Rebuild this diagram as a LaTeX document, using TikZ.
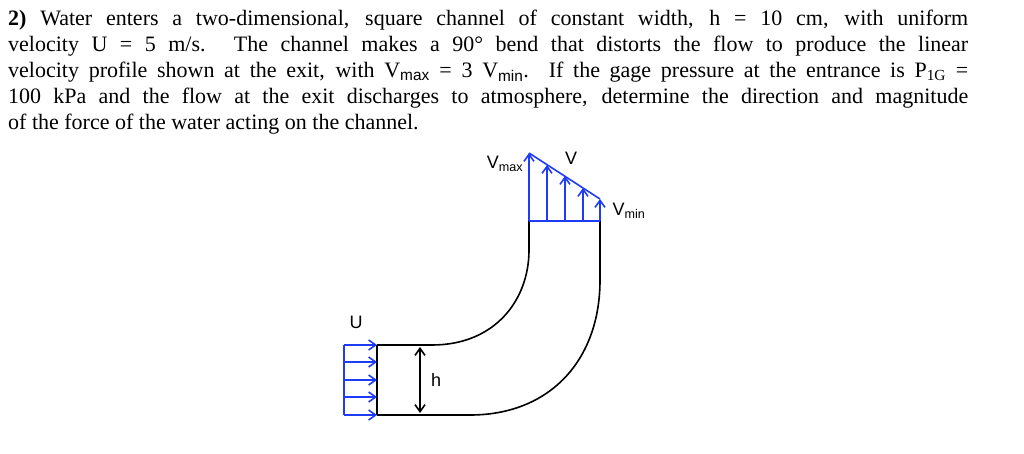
\documentclass[tikz,border=0pt]{standalone}
\usepackage{fontspec}
\setmainfont{Liberation Serif}
\newfontfamily\lab{Liberation Sans}
\usetikzlibrary{arrows.meta}
\begin{document}
\begin{tikzpicture}[x=1pt,y=-1pt,
  txt/.style={anchor=base west,inner sep=0pt,font=\fontsize{22}{26}\selectfont},
  lbl/.style={inner sep=0pt,font=\lab\fontsize{18}{20}\selectfont},
  blu/.style={draw={rgb,255:red,30;green,60;blue,245},line width=1.6pt},
  barr/.style={blu,-{Straight Barb[length=7pt,width=10pt]}},
  wall/.style={draw=black,line width=1.6pt}]
\useasboundingbox (0,0) rectangle (1024,453);
\newcommand\jl[1]{\makebox[960pt][s]{#1}}
\node[txt] (l1) at (8,25) {\jl{\textbf{2)} Water enters a two-dimensional, square channel of constant width, h = 10 cm, with uniform}};
\node[txt] (l2) at (8,51) {\jl{velocity U = 5 m/s. The channel makes a 90° bend that distorts the flow to produce the linear}};
\node[txt] (l3) at (8,77) {\jl{velocity profile shown at the exit, with V\textsubscript{\lab max} = 3 V\textsubscript{\lab min}. If the gage pressure at the entrance is P\textsubscript{1G} =}};
\node[txt] (l4) at (8,103) {\jl{100 kPa and the flow at the exit discharges to atmosphere, determine the direction and magnitude}};
\node[txt] (l5) at (8,129) {of the force of the water acting on the channel.};
% channel
\coordinate (it) at (377,345); \coordinate (ib) at (377,415);
\coordinate (el) at (529,221); \coordinate (er) at (600,221);
\draw[wall] (it) -- (ib);
\draw[wall] (it) -- (432,345) .. controls (495,345) and (529,300) .. (529,250) -- (el);
\draw[wall] (ib) -- (470,415) .. controls (550,415) and (600,360) .. (600,280) -- (er);
% exit profile
\draw[blu] (el) -- (er);
\draw[blu] (529,153) -- (600,199);
\foreach \x/\y in {529/153,547/165,565/176,583/188,600/199}
  \draw[barr] (\x,221) -- (\x,\y);
% inlet profile
\draw[blu] (344,345) -- (344,415);
\foreach \y in {345,362,380,397,415}
  \draw[barr] (344,\y) -- (377,\y);
% h
\coordinate (h1) at (420,347); \coordinate (h2) at (420,413);
\draw[line width=1.6pt,{Straight Barb[length=7pt,width=10pt]}-{Straight Barb[length=7pt,width=10pt]}] (h1) -- (h2);
\node[lbl] (h) at (436,380) {h};
\node[lbl] (U) at (356,322) {U};
\node[lbl] (vmax) at (505,164) {V\textsubscript{max}};
\node[lbl] (v) at (571,158) {V};
\node[lbl] (vmin) at (629,211) {V\textsubscript{min}};
\end{tikzpicture}
\end{document}
